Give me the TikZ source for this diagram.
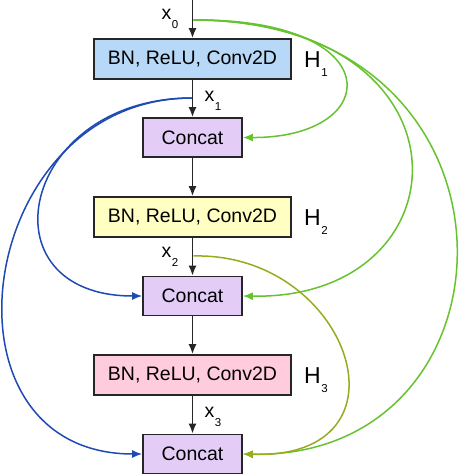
\documentclass[tikz,border=0pt]{standalone}
\usepackage{fontspec}
\setmainfont{Liberation Sans}
\usetikzlibrary{arrows.meta}
\definecolor{boxblue}{HTML}{B7D9F7}
\definecolor{boxyellow}{HTML}{FFFFC4}
\definecolor{boxpink}{HTML}{FFCCDD}
\definecolor{boxpurple}{HTML}{E3CDF7}
\definecolor{linkblue}{HTML}{1E4AB4}
\definecolor{linkgreen}{HTML}{66C22E}
\definecolor{linkolive}{HTML}{9AAA1E}
\newcommand\lab[2]{#1\hspace{0.5pt}\raisebox{-9pt}{\fontsize{11.5}{11.5}\selectfont #2}}
\tikzset{
  convbox/.style={draw=black!85, line width=1.7pt, minimum width=197pt, minimum height=40pt, inner sep=0pt, font=\fontsize{19.5}{20}\selectfont},
  catbox/.style={convbox, fill=boxpurple, minimum width=99pt, minimum height=39pt},
  flow/.style={draw=black!85, line width=1.7pt, -{Latex[length=10pt,width=8pt]}},
  link/.style={line width=1.5pt, -{Latex[length=10pt,width=8pt]}},
  xlab/.style={anchor=base west, inner sep=0pt, font=\fontsize{19.5}{19.5}\selectfont},
  hlab/.style={anchor=base west, inner sep=0pt, font=\fontsize{23}{23}\selectfont},
}
\begin{document}
\begin{tikzpicture}[x=1pt,y=-1pt]
\useasboundingbox (0,0) rectangle (474,474);
\node[convbox, fill=boxblue] (b1) at (192.5,59) {BN, ReLU, Conv2D};
\node[catbox] (c1) at (192.5,137.5) {Concat};
\node[convbox, fill=boxyellow] (b2) at (192.5,217) {BN, ReLU, Conv2D};
\node[catbox] (c2) at (192.5,296) {Concat};
\node[convbox, fill=boxpink] (b3) at (192.5,375) {BN, ReLU, Conv2D};
\node[catbox] (c3) at (192.5,454) {Concat};
\coordinate (top) at (192.5,-2);
\coordinate (x0p) at (193.5,20);
\coordinate (x1p) at (192,98);
\coordinate (x2p) at (193.5,256);
\node[xlab] (lx0) at (161.5,19) {\lab{x}{0}};
\node[xlab] (lx1) at (204.5,101) {\lab{x}{1}};
\node[xlab] (lx2) at (161.5,257) {\lab{x}{2}};
\node[xlab] (lx3) at (204.5,417) {\lab{x}{3}};
\node[hlab] (h1) at (304,67) {\lab{H}{1}};
\node[hlab] (h2) at (304,225) {\lab{H}{2}};
\node[hlab] (h3) at (304,383) {\lab{H}{3}};
\draw[flow] (top) -- (b1.north);
\draw[flow] (b1.south) -- (c1.north);
\draw[flow] (c1.south) -- (b2.north);
\draw[flow] (b2.south) -- (c2.north);
\draw[flow] (c2.south) -- (b3.north);
\draw[flow] (b3.south) -- (c3.north);
\draw[link, linkgreen] (x0p) .. controls (390,18) and (385,138) .. (c1.east);
\draw[link, linkgreen] (x0p) .. controls (480,20) and (470,300) .. (c2.east);
\draw[link, linkgreen] (x0p) .. controls (540,20) and (530,460) .. (c3.east);
\draw[link, linkblue] (x1p) .. controls (20,98) and (-20,296) .. (c2.west);
\draw[link, linkblue] (x1p) .. controls (-25,98) and (-72,454) .. (c3.west);
\draw[link, linkolive] (x2p) .. controls (350,252) and (420,460) .. (c3.east);
\end{tikzpicture}
\end{document}
